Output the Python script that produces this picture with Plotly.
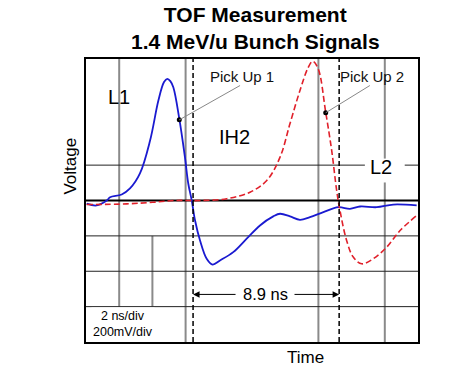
import plotly.graph_objects as go

# ---- data (time in ns, voltage in mV) ----
blue_t = [0.04, 0.64, 1.25, 1.45, 2.15, 2.65, 3.25, 3.86, 4.36, 4.70, 4.90, 5.08, 5.26, 5.62, 5.96, 6.16, 6.37,
          6.57, 6.87, 7.27, 7.63, 8.07, 8.87, 9.68, 10.48, 11.28, 11.69, 12.29, 12.89, 13.49, 14.30, 15.20,
          15.90, 16.51, 17.51, 18.51, 19.92]
blue_v = [-18, -28, 0, 18, 34, 68, 153, 339, 565, 670, 688, 675, 640, 463, 245, 96, 0,
          -113, -226, -329, -362, -339, -292, -216, -141, -90, -75, -90, -109, -94, -66, -38,
          -47, -34, -38, -23, -28]

red_t = [0.04, 2.45, 4.05, 5.36, 6.87, 8.48, 9.88, 10.89, 11.69, 12.29, 12.89, 13.39, 13.66, 13.99, 14.44,
         14.80, 15.10, 15.30, 15.70, 16.10, 16.61, 17.31, 18.11, 18.92, 19.92]
red_v = [-23, -19, -10, 0, 0, 10, 47, 113, 245, 435, 622, 753, 787, 744, 499,
         283, 57, -57, -226, -320, -358, -329, -264, -170, -85]

pickup_t = [5.62, 14.44]
pickup_v = [456, 496]
pickup_labels = ["Pick Up 1", "Pick Up 2"]
pickup_label_t = [9.4, 17.2]
pickup_label_v = [700, 700]
pickup_leader_end_t = [9.28, 17.1]
pickup_leader_end_v = [650, 650]

trigger_t = [6.45, 15.25]
tof_label = "8.9 ns"

FONT = "Arial, Liberation Sans, sans-serif"

fig = go.Figure()

shapes = []
# gray vertical division lines (x, y0, y1)
gray_vlines = [(2, -600, 800), (4, -600, -200), (6, -800, 800), (14, -800, 800), (18, -800, 102), (18, 237, 800)]
for x, y0, y1 in gray_vlines:
    shapes.append(dict(type="line", x0=x, x1=x, y0=y0, y1=y1, xref="x", yref="y",
                       line=dict(color="#8a8a8a", width=2), layer="below"))
# horizontal division lines
h_lines = [(200, 0, 16.8), (200, 19.2, 20), (-200, 0, 20), (-400, 0, 20), (-600, 0, 20)]
for y, x0, x1 in h_lines:
    shapes.append(dict(type="line", x0=x0, x1=x1, y0=y, y1=y, xref="x", yref="y",
                       line=dict(color="#222222", width=1), layer="below"))
# zero line
shapes.append(dict(type="line", x0=0, x1=20, y0=0, y1=0, xref="x", yref="y",
                   line=dict(color="black", width=2), layer="below"))
# trigger dashed lines
for x in trigger_t:
    shapes.append(dict(type="line", x0=x, x1=x, y0=-800, y1=800, xref="x", yref="y",
                       line=dict(color="black", width=1.5, dash="5px,3px")))
# leader lines
for i in range(2):
    shapes.append(dict(type="line", x0=pickup_t[i], y0=pickup_v[i], x1=pickup_leader_end_t[i],
                       y1=pickup_leader_end_v[i], xref="x", yref="y",
                       line=dict(color="#888888", width=1)))

fig.add_trace(go.Scatter(x=blue_t, y=blue_v, mode="lines", line=dict(color="#1a1ad0", width=1.8, shape="spline"),
                         hoverinfo="skip"))
fig.add_trace(go.Scatter(x=red_t, y=red_v, mode="lines",
                         line=dict(color="#e0202a", width=1.6, dash="6px,3px", shape="spline"), hoverinfo="skip"))
fig.add_trace(go.Scatter(x=pickup_t, y=pickup_v, mode="markers", marker=dict(color="black", size=5),
                         hoverinfo="skip"))

ann = []
for i in range(2):
    ann.append(dict(x=pickup_label_t[i], y=pickup_label_v[i], text=pickup_labels[i], showarrow=False,
                    font=dict(size=15, color="#111"), xref="x", yref="y"))
for txt, x, y in [("L1", 1.99, 588), ("IH2", 8.95, 358), ("L2", 17.8, 188)]:
    ann.append(dict(x=x, y=y, text=txt, showarrow=False, font=dict(size=20, color="black"), xref="x", yref="y"))
ann.append(dict(x=10.8, y=-531, text=tof_label, showarrow=False, font=dict(size=16.5, color="black"),
                xref="x", yref="y"))
# arrows
ann.append(dict(x=trigger_t[0], y=-531, ax=9.1, ay=-531, axref="x", ayref="y", xref="x", yref="y",
                text="", showarrow=True, arrowhead=2, arrowsize=1.3, arrowwidth=1, arrowcolor="black"))
ann.append(dict(x=trigger_t[1], y=-531, ax=12.47, ay=-531, axref="x", ayref="y", xref="x", yref="y",
                text="", showarrow=True, arrowhead=2, arrowsize=1.3, arrowwidth=1, arrowcolor="black"))
ann.append(dict(x=2.24, y=-700, text="2 ns/div<br>200mV/div", showarrow=False, font=dict(size=12.5, color="black"),
                xref="x", yref="y", bgcolor="white"))
ann.append(dict(x=0.51, y=1.0, xref="paper", yref="paper", yanchor="bottom", yshift=4,
                text="<b>TOF Measurement<br>1.4 MeV/u Bunch Signals</b>", showarrow=False,
                font=dict(size=21, color="black")))
ann.append(dict(x=-0.048, y=0.62, xref="paper", yref="paper", xanchor="center", yanchor="middle",
                text="Voltage", textangle=-90, showarrow=False, font=dict(size=17, color="black")))
ann.append(dict(x=0.66, y=0, xref="paper", yref="paper", xanchor="center", yanchor="top", yshift=-4,
                text="Time", showarrow=False, font=dict(size=17, color="black")))

fig.update_layout(
    width=474, height=372,
    margin=dict(l=86, r=56, t=59, b=30),
    paper_bgcolor="white", plot_bgcolor="white",
    font=dict(family=FONT, color="black"),
    showlegend=False,
    shapes=shapes,
    annotations=ann,
    xaxis=dict(range=[0, 20], showgrid=False, zeroline=False, showticklabels=False, ticks="",
               showline=True, linecolor="black", linewidth=2, mirror=True, fixedrange=True),
    yaxis=dict(range=[-800, 800], showgrid=False, zeroline=False, showticklabels=False, ticks="",
               showline=True, linecolor="black", linewidth=2, mirror=True, fixedrange=True),
)

fig.write_html("out.html", config={"displayModeBar": False},
               post_script="document.body.style.margin='0';document.body.style.overflow='hidden';")
